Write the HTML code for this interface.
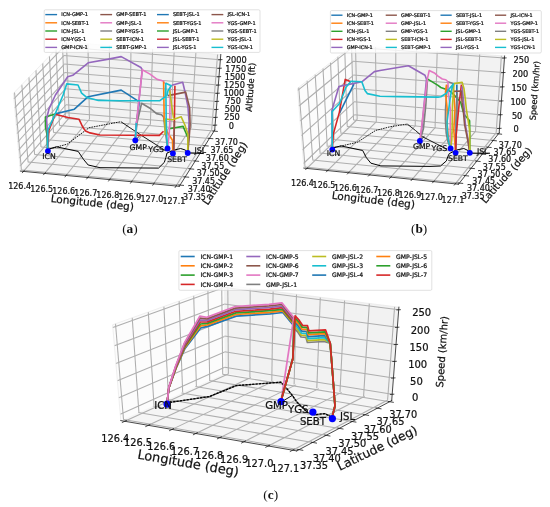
<!DOCTYPE html>
<html><head><meta charset="utf-8"><title>Figure</title>
<style>html,body{margin:0;padding:0;background:#fff}svg{display:block}text{fill:#111}.sans text{stroke:#111;stroke-width:.22px}</style></head>
<body><svg width="550" height="507" viewBox="0 0 550 507" font-family="'DejaVu Sans','Liberation Sans',sans-serif">
<rect width="550" height="507" fill="#fff"/>
<g id="plot-a" class="sans">
<polygon points="20.4,171.1 66.3,117.6 63.3,41.8 13.4,93.4" fill="#fcfcfc"/>
<polygon points="66.3,117.6 214.7,130.1 220.8,54.5 63.3,41.8" fill="#f2f2f2"/>
<polygon points="20.4,171.1 179.3,186.3 214.7,130.1 66.3,117.6" fill="#f5f5f5"/>
<g stroke="#aeaeae" stroke-width="1.05" fill="none">
<path d="M23.5 171.4L69.2 117.8"/>
<path d="M69.2 117.8L66.4 42.1"/>
<path d="M44.7 173.4L89.1 119.5"/>
<path d="M89.5 119.6L87.9 43.8"/>
<path d="M66.1 175.5L109.1 121.2"/>
<path d="M109.8 121.3L109.4 45.5"/>
<path d="M87.7 177.5L129.3 122.9"/>
<path d="M130.1 123L131 47.3"/>
<path d="M109.5 179.6L149.6 124.6"/>
<path d="M150.4 124.7L152.6 49"/>
<path d="M131.5 181.7L170.1 126.3"/>
<path d="M170.8 126.4L174.2 50.7"/>
<path d="M153.7 183.8L190.8 128.1"/>
<path d="M191.2 128.1L195.9 52.5"/>
<path d="M176 186L211.6 129.8"/>
<path d="M211.7 129.8L217.6 54.2"/>
<path d="M21.4 169.9L180.1 185.1"/>
<path d="M21.4 169.9L14.5 92.3"/>
<path d="M28.1 162.1L185.2 176.9"/>
<path d="M28.1 162.2L21.8 84.7"/>
<path d="M34.6 154.5L190.3 168.8"/>
<path d="M34.6 154.5L28.9 77.3"/>
<path d="M41.1 147L195.2 161"/>
<path d="M41 147L35.9 70.1"/>
<path d="M47.3 139.7L200.1 153.3"/>
<path d="M47.3 139.7L42.7 63.1"/>
<path d="M53.5 132.5L204.8 145.7"/>
<path d="M53.5 132.5L49.4 56.1"/>
<path d="M59.5 125.5L209.5 138.4"/>
<path d="M59.5 125.5L56 49.4"/>
<path d="M65.4 118.6L214 131.1"/>
<path d="M65.4 118.6L62.4 42.8"/>
<path d="M20 166.2L66.1 112.7"/>
<path d="M66.1 112.7L215.1 125.2"/>
<path d="M19.2 158.2L65.8 105"/>
<path d="M65.8 104.8L215.7 117.4"/>
<path d="M18.5 150.2L65.5 97.1"/>
<path d="M65.5 96.9L216.4 109.5"/>
<path d="M17.8 142L65.2 89.1"/>
<path d="M65.2 88.8L217 101.4"/>
<path d="M17 133.6L64.8 80.9"/>
<path d="M64.8 80.7L217.7 93.3"/>
<path d="M16.3 125.2L64.5 72.7"/>
<path d="M64.5 72.4L218.3 85.1"/>
<path d="M15.5 116.5L64.2 64.3"/>
<path d="M64.2 64.1L219 76.7"/>
<path d="M14.7 107.8L63.9 55.7"/>
<path d="M63.8 55.6L219.7 68.3"/>
<path d="M13.9 98.8L63.5 47.1"/>
<path d="M63.5 47L220.4 59.7"/>
</g>
<g stroke="#e4e4e4" stroke-width="0.6" fill="none">
<path d="M20.4 171.1L13.4 93.4"/>
<path d="M13.4 93.4L63.3 41.8"/>
<path d="M63.3 41.8L220.8 54.5"/>
</g>
<g stroke="#1c1c1c" stroke-width="0.8" fill="none" stroke-linecap="square">
<path d="M20.4 171.1L179.3 186.3"/>
<path d="M179.3 186.3L214.7 130.1"/>
<path d="M214.7 130.1L220.8 54.5"/>
<path d="M22.4 172.7L24.2 170.5"/>
<path d="M43.6 174.7L45.4 172.6"/>
<path d="M65.1 176.8L66.8 174.6"/>
<path d="M86.7 178.9L88.4 176.7"/>
<path d="M108.6 181L110.2 178.7"/>
<path d="M130.6 183.1L132.1 180.8"/>
<path d="M152.8 185.2L154.3 182.9"/>
<path d="M175.2 187.4L176.6 185.1"/>
<path d="M183.5 185.4L178.8 185"/>
<path d="M188.7 177.2L184 176.8"/>
<path d="M193.7 169.2L189.1 168.7"/>
<path d="M198.6 161.3L194.1 160.9"/>
<path d="M203.4 153.6L198.9 153.2"/>
<path d="M208.2 146L203.7 145.6"/>
<path d="M212.8 138.7L208.3 138.3"/>
<path d="M217.3 131.4L212.9 131"/>
<path d="M213.3 125.3L216.7 125.1"/>
<path d="M213.9 117.5L217.3 117.3"/>
<path d="M214.6 109.6L218 109.4"/>
<path d="M215.2 101.5L218.6 101.3"/>
<path d="M215.9 93.4L219.3 93.2"/>
<path d="M216.5 85.2L219.9 85"/>
<path d="M217.2 76.8L220.6 76.6"/>
<path d="M217.9 68.4L221.3 68.2"/>
<path d="M218.6 59.8L222 59.6"/>
</g>
<g font-size="8">
<text x="19.6" y="189.4" font-size="8" text-anchor="middle" >126.4</text>
<text x="41.7" y="191.5" font-size="8" text-anchor="middle" >126.5</text>
<text x="63.7" y="193.6" font-size="8" text-anchor="middle" >126.6</text>
<text x="85.8" y="195.6" font-size="8" text-anchor="middle" >126.7</text>
<text x="107.8" y="197.7" font-size="8" text-anchor="middle" >126.8</text>
<text x="129.8" y="199.8" font-size="8" text-anchor="middle" >126.9</text>
<text x="151.9" y="201.9" font-size="8" text-anchor="middle" >127.0</text>
<text x="173.9" y="204" font-size="8" text-anchor="middle" >127.1</text>
<text x="194.5" y="199.7" font-size="8" text-anchor="middle" >37.35</text>
<text x="199.1" y="191.9" font-size="8" text-anchor="middle" >37.40</text>
<text x="203.6" y="184.1" font-size="8" text-anchor="middle" >37.45</text>
<text x="208.2" y="176.3" font-size="8" text-anchor="middle" >37.50</text>
<text x="212.8" y="168.5" font-size="8" text-anchor="middle" >37.55</text>
<text x="217.3" y="160.8" font-size="8" text-anchor="middle" >37.60</text>
<text x="221.9" y="153" font-size="8" text-anchor="middle" >37.65</text>
<text x="226.5" y="145.2" font-size="8" text-anchor="middle" >37.70</text>
<text x="231.4" y="128.5" font-size="8.2" text-anchor="middle" >0</text>
<text x="232" y="120.4" font-size="8.2" text-anchor="middle" >250</text>
<text x="232.6" y="112.2" font-size="8.2" text-anchor="middle" >500</text>
<text x="233.2" y="104.1" font-size="8.2" text-anchor="middle" >750</text>
<text x="233.8" y="95.9" font-size="8.2" text-anchor="middle" >1000</text>
<text x="234.5" y="87.8" font-size="8.2" text-anchor="middle" >1250</text>
<text x="235.1" y="79.7" font-size="8.2" text-anchor="middle" >1500</text>
<text x="235.7" y="71.5" font-size="8.2" text-anchor="middle" >1750</text>
<text x="236.3" y="63.4" font-size="8.2" text-anchor="middle" >2000</text>
</g>
<text x="92" y="206.3" font-size="10.5" text-anchor="middle" transform="rotate(5.8 92 206.3)" >Longitude (deg)</text>
<text x="227.7" y="175.3" font-size="10.3" text-anchor="middle" transform="rotate(-56.7 227.7 175.3)" >Latitude (deg)</text>
<text x="253.4" y="87.5" font-size="8.6" text-anchor="middle" transform="rotate(-86 253.4 87.5)" >Altitude (ft)</text>
<polyline points="47.6,149.5 67.3,144.1 89.1,127.7 120.9,121.7" fill="none" stroke="#000" stroke-width="0.9" stroke-linejoin="round" stroke-dasharray="1.6 0.9"/>
<polyline points="120.9,121.7 141.4,135.4 165.9,150.9" fill="none" stroke="#000" stroke-width="0.9" stroke-linejoin="round" />
<polyline points="47.6,149.5 56.4,146.8 78.2,151.4 83.6,159.5 88.2,165 100,167.7 158.5,168.1 164.3,162.4 165.9,157.5 167,153 174.1,150.1 180.6,148.5 185.5,150.1 187.7,153 203.5,153.4" fill="none" stroke="#000" stroke-width="1.0" stroke-linejoin="round" />
<polyline points="135.3,140.3 140.2,135.2" fill="none" stroke="#000" stroke-width="0.8" stroke-linejoin="round" />
<polyline points="55.2,113.9 74.4,109.2 88.2,96.7 121.2,90.1 139.4,101.8 136.5,123 135.3,140" fill="none" stroke="#1f77b4" stroke-width="1.6" stroke-linejoin="round" />
<polyline points="47.6,150 46.9,134 45.5,127 45.4,116.9 55.2,113.9" fill="none" stroke="#2ca02c" stroke-width="1.6" stroke-linejoin="round" />
<polyline points="47.6,150 48.9,130.5 55.2,114.3 67.9,117.5 79.1,119.3 82.7,127 85.6,131.1 90,132.9 100,135 159.4,135.4 163.5,131.3" fill="none" stroke="#d62728" stroke-width="1.6" stroke-linejoin="round" />
<polyline points="135.3,140 136.5,123 142.3,69.7 140.9,67.5 121.2,56.6 108.6,59.1 88.2,62.8 72.8,75.3 67.7,76.7 55.4,95 48.9,109.2 46.6,118.7 47.5,134 47.6,150" fill="none" stroke="#9467bd" stroke-width="1.6" stroke-linejoin="round" />
<polyline points="135.3,140 137,123 141.6,103.3 150,108.2 156.5,113.6 161.5,114.7 163.6,116.9 164.5,125 167.5,148" fill="none" stroke="#7f7f7f" stroke-width="1.6" stroke-linejoin="round" />
<polyline points="135.3,140 136.5,123 142.3,69.7 150,74.1 157.1,79.3 163.1,80.9 164.7,83.6" fill="none" stroke="#e377c2" stroke-width="1.6" stroke-linejoin="round" />
<polyline points="163.6,81.5 164.2,119.8 166.7,131.3 172.5,140.3 172.9,153" fill="none" stroke="#ff7f0e" stroke-width="1.6" stroke-linejoin="round" />
<polyline points="169.2,128.8 183.1,126.4 188,137.8 187.7,153" fill="none" stroke="#2ca02c" stroke-width="1.6" stroke-linejoin="round" />
<polyline points="171.8,85.3 182.7,82.2 185,91.8 188,107.1 189,121.3 188.4,140 187.7,153" fill="none" stroke="#9467bd" stroke-width="1.6" stroke-linejoin="round" />
<polyline points="168,95.6 185.7,92.1 189.6,107.6 190.1,125 189,140 187.7,153" fill="none" stroke="#8c564b" stroke-width="1.6" stroke-linejoin="round" />
<polyline points="174.9,85.8 174.3,128 173.6,153" fill="none" stroke="#d62728" stroke-width="1.6" stroke-linejoin="round" />
<polyline points="174.4,121 173.6,153" fill="none" stroke="#8c564b" stroke-width="1.6" stroke-linejoin="round" />
<polyline points="170.2,86.4 169.8,120 169.2,135 167.5,148" fill="none" stroke="#e377c2" stroke-width="1.6" stroke-linejoin="round" />
<polyline points="169.6,89.6 171.8,106 173.5,118" fill="none" stroke="#bcbd22" stroke-width="1.6" stroke-linejoin="round" />
<polyline points="165.1,135 165.1,119 172.5,119.8 181.1,116.7 184.9,125 188,134.5 187.7,153" fill="none" stroke="#bcbd22" stroke-width="1.6" stroke-linejoin="round" />
<polyline points="47.6,150 47.8,130.5 55.2,113.9 63.1,95 66.7,83.9 78,85 81.6,93.1 86.7,97.4 98.4,100.4 120,100.7 159.9,100.7 165.3,96.7 165.8,83.3 166.2,120 166.7,135 167.5,148" fill="none" stroke="#17becf" stroke-width="1.6" stroke-linejoin="round" />
<polyline points="135.3,140 136.3,123" fill="none" stroke="#17becf" stroke-width="1.6" stroke-linejoin="round" />
<polyline points="165.8,83.3 171.3,85.8 168,90.7 166.9,96.2" fill="none" stroke="#17becf" stroke-width="1.6" stroke-linejoin="round" />
<circle cx="47.9" cy="151.1" r="2.9" fill="#0000ff"/>
<circle cx="135.3" cy="140.3" r="2.9" fill="#0000ff"/>
<circle cx="167.5" cy="148.5" r="2.9" fill="#0000ff"/>
<circle cx="172.9" cy="153.4" r="2.9" fill="#0000ff"/>
<circle cx="187.7" cy="153" r="2.9" fill="#0000ff"/>
<text x="42.3" y="158.7" font-size="7.75" text-anchor="start" >ICN</text>
<text x="129.6" y="150.1" font-size="7.75" text-anchor="start" >GMP</text>
<text x="148.2" y="151.7" font-size="7.75" text-anchor="start" >YGS</text>
<text x="167.2" y="161.5" font-size="7.7" text-anchor="start" >SEBT</text>
<text x="194.5" y="153.4" font-size="7.75" text-anchor="start" >JSL</text>
<rect x="44.2" y="9.8" width="215.8" height="42.6" rx="1.2" fill="#fff" fill-opacity="0.8" stroke="#ccc" stroke-width="0.6"/>
<path d="M45.3 14.6H57.1" stroke="#1f77b4" stroke-width="1.4"/>
<text x="61.2" y="16.4" font-size="5.0" stroke="#111" stroke-width="0.18">ICN-GMP-1</text>
<path d="M45.3 22.8H57.1" stroke="#ff7f0e" stroke-width="1.4"/>
<text x="61.2" y="24.6" font-size="5.0" stroke="#111" stroke-width="0.18">ICN-SEBT-1</text>
<path d="M45.3 31H57.1" stroke="#2ca02c" stroke-width="1.4"/>
<text x="61.2" y="32.8" font-size="5.0" stroke="#111" stroke-width="0.18">ICN-JSL-1</text>
<path d="M45.3 39.2H57.1" stroke="#d62728" stroke-width="1.4"/>
<text x="61.2" y="41" font-size="5.0" stroke="#111" stroke-width="0.18">ICN-YGS-1</text>
<path d="M45.3 47.4H57.1" stroke="#9467bd" stroke-width="1.4"/>
<text x="61.2" y="49.2" font-size="5.0" stroke="#111" stroke-width="0.18">GMP-ICN-1</text>
<path d="M100.3 14.6H112.1" stroke="#8c564b" stroke-width="1.4"/>
<text x="116.2" y="16.4" font-size="5.0" stroke="#111" stroke-width="0.18">GMP-SEBT-1</text>
<path d="M100.3 22.8H112.1" stroke="#e377c2" stroke-width="1.4"/>
<text x="116.2" y="24.6" font-size="5.0" stroke="#111" stroke-width="0.18">GMP-JSL-1</text>
<path d="M100.3 31H112.1" stroke="#7f7f7f" stroke-width="1.4"/>
<text x="116.2" y="32.8" font-size="5.0" stroke="#111" stroke-width="0.18">GMP-YGS-1</text>
<path d="M100.3 39.2H112.1" stroke="#bcbd22" stroke-width="1.4"/>
<text x="116.2" y="41" font-size="5.0" stroke="#111" stroke-width="0.18">SEBT-ICN-1</text>
<path d="M100.3 47.4H112.1" stroke="#17becf" stroke-width="1.4"/>
<text x="116.2" y="49.2" font-size="5.0" stroke="#111" stroke-width="0.18">SEBT-GMP-1</text>
<path d="M157 14.6H168.8" stroke="#1f77b4" stroke-width="1.4"/>
<text x="172.9" y="16.4" font-size="5.0" stroke="#111" stroke-width="0.18">SEBT-JSL-1</text>
<path d="M157 22.8H168.8" stroke="#ff7f0e" stroke-width="1.4"/>
<text x="172.9" y="24.6" font-size="5.0" stroke="#111" stroke-width="0.18">SEBT-YGS-1</text>
<path d="M157 31H168.8" stroke="#2ca02c" stroke-width="1.4"/>
<text x="172.9" y="32.8" font-size="5.0" stroke="#111" stroke-width="0.18">JSL-GMP-1</text>
<path d="M157 39.2H168.8" stroke="#d62728" stroke-width="1.4"/>
<text x="172.9" y="41" font-size="5.0" stroke="#111" stroke-width="0.18">JSL-SEBT-1</text>
<path d="M157 47.4H168.8" stroke="#9467bd" stroke-width="1.4"/>
<text x="172.9" y="49.2" font-size="5.0" stroke="#111" stroke-width="0.18">JSL-YGS-1</text>
<path d="M211.5 14.6H223.3" stroke="#8c564b" stroke-width="1.4"/>
<text x="227.4" y="16.4" font-size="5.0" stroke="#111" stroke-width="0.18">JSL-ICN-1</text>
<path d="M211.5 22.8H223.3" stroke="#e377c2" stroke-width="1.4"/>
<text x="227.4" y="24.6" font-size="5.0" stroke="#111" stroke-width="0.18">YGS-GMP-1</text>
<path d="M211.5 31H223.3" stroke="#7f7f7f" stroke-width="1.4"/>
<text x="227.4" y="32.8" font-size="5.0" stroke="#111" stroke-width="0.18">YGS-SEBT-1</text>
<path d="M211.5 39.2H223.3" stroke="#bcbd22" stroke-width="1.4"/>
<text x="227.4" y="41" font-size="5.0" stroke="#111" stroke-width="0.18">YGS-JSL-1</text>
<path d="M211.5 47.4H223.3" stroke="#17becf" stroke-width="1.4"/>
<text x="227.4" y="49.2" font-size="5.0" stroke="#111" stroke-width="0.18">YGS-ICN-1</text>
<text x="129.9" y="233.2" font-size="13.3" text-anchor="middle" font-family="'Liberation Serif',serif" font-weight="bold" style="stroke:none"><tspan font-weight="normal">(</tspan>a<tspan font-weight="normal">)</tspan></text>
</g>
<g id="plot-b" class="sans">
<polygon points="303.9,168.1 354.4,119.2 352.6,45.3 297.5,88.3" fill="#fcfcfc"/>
<polygon points="354.4,119.2 499.2,132.9 504.6,56 352.6,45.3" fill="#f2f2f2"/>
<polygon points="303.9,168.1 458.5,184.2 499.2,132.9 354.4,119.2" fill="#f5f5f5"/>
<g stroke="#aeaeae" stroke-width="1.05" fill="none">
<path d="M306.9 168.4L357.2 119.5"/>
<path d="M357.2 119.5L355.5 45.5"/>
<path d="M327.6 170.6L376.7 121.3"/>
<path d="M376.3 121.3L375.5 46.9"/>
<path d="M348.5 172.7L396.3 123.2"/>
<path d="M395.6 123.1L395.8 48.3"/>
<path d="M369.6 174.9L416 125"/>
<path d="M415.2 125L416.4 49.8"/>
<path d="M390.8 177.1L435.8 126.9"/>
<path d="M435.1 126.8L437.2 51.3"/>
<path d="M412.1 179.4L455.8 128.8"/>
<path d="M455.2 128.7L458.3 52.7"/>
<path d="M433.6 181.6L476 130.7"/>
<path d="M475.5 130.7L479.7 54.2"/>
<path d="M455.3 183.9L496.2 132.6"/>
<path d="M496.2 132.6L501.4 55.8"/>
<path d="M305 167.1L459.4 183.1"/>
<path d="M305 167L298.7 87.3"/>
<path d="M312.3 159.9L465.3 175.6"/>
<path d="M312.7 159.6L307.1 80.8"/>
<path d="M319.5 153L471.1 168.3"/>
<path d="M320 152.5L315.2 74.5"/>
<path d="M326.6 146.1L476.8 161.1"/>
<path d="M327.2 145.6L323 68.4"/>
<path d="M333.5 139.4L482.4 154.1"/>
<path d="M334.1 138.9L330.5 62.5"/>
<path d="M340.3 132.9L487.8 147.2"/>
<path d="M340.8 132.4L337.8 56.8"/>
<path d="M346.9 126.4L493.2 140.5"/>
<path d="M347.2 126.1L344.8 51.4"/>
<path d="M353.5 120.1L498.4 133.9"/>
<path d="M353.5 120.1L351.6 46.1"/>
<path d="M303.5 163.5L354.3 114.9"/>
<path d="M354.3 114.8L499.5 128.4"/>
<path d="M302.4 149.8L354 102.1"/>
<path d="M354 101.8L500.5 114.8"/>
<path d="M301.3 135.6L353.7 88.9"/>
<path d="M353.7 88.5L501.4 101"/>
<path d="M300.1 121L353.3 75.4"/>
<path d="M353.3 75L502.4 86.9"/>
<path d="M298.9 106L353 61.5"/>
<path d="M353 61.2L503.4 72.6"/>
<path d="M297.7 90.4L352.6 47.3"/>
<path d="M352.6 47.2L504.5 58"/>
</g>
<g stroke="#e4e4e4" stroke-width="0.6" fill="none">
<path d="M303.9 168.1L297.5 88.3"/>
<path d="M297.5 88.3L352.6 45.3"/>
<path d="M352.6 45.3L504.6 56"/>
</g>
<g stroke="#1c1c1c" stroke-width="0.8" fill="none" stroke-linecap="square">
<path d="M303.9 168.1L458.5 184.2"/>
<path d="M458.5 184.2L499.2 132.9"/>
<path d="M499.2 132.9L504.6 56"/>
<path d="M305.7 169.6L307.7 167.6"/>
<path d="M326.5 171.8L328.4 169.8"/>
<path d="M347.4 174L349.3 171.9"/>
<path d="M368.4 176.1L370.3 174.1"/>
<path d="M389.7 178.4L391.5 176.3"/>
<path d="M411.1 180.6L412.8 178.6"/>
<path d="M432.6 182.8L434.3 180.8"/>
<path d="M454.3 185.1L456 183"/>
<path d="M462.7 183.4L458.2 183"/>
<path d="M468.6 176L464.1 175.5"/>
<path d="M474.4 168.6L469.9 168.2"/>
<path d="M480.1 161.5L475.6 161"/>
<path d="M485.6 154.4L481.2 154"/>
<path d="M491.1 147.5L486.7 147.1"/>
<path d="M496.4 140.8L492.1 140.4"/>
<path d="M501.6 134.2L497.3 133.7"/>
<path d="M497.7 128.5L501.1 128.3"/>
<path d="M498.7 114.9L502.1 114.7"/>
<path d="M499.6 101.1L503 100.9"/>
<path d="M500.6 87L504 86.8"/>
<path d="M501.6 72.7L505 72.5"/>
<path d="M502.7 58.1L506.1 57.9"/>
</g>
<g font-size="8">
<text x="302.5" y="185.9" font-size="8" text-anchor="middle" >126.4</text>
<text x="324" y="188.3" font-size="8" text-anchor="middle" >126.5</text>
<text x="345.5" y="190.7" font-size="8" text-anchor="middle" >126.6</text>
<text x="367" y="193.1" font-size="8" text-anchor="middle" >126.7</text>
<text x="388.5" y="195.5" font-size="8" text-anchor="middle" >126.8</text>
<text x="410" y="197.8" font-size="8" text-anchor="middle" >126.9</text>
<text x="431.5" y="200.2" font-size="8" text-anchor="middle" >127.0</text>
<text x="453" y="202.6" font-size="8" text-anchor="middle" >127.1</text>
<text x="473.1" y="198.7" font-size="8" text-anchor="middle" >37.35</text>
<text x="478.4" y="191.4" font-size="8" text-anchor="middle" >37.40</text>
<text x="483.7" y="184.1" font-size="8" text-anchor="middle" >37.45</text>
<text x="489" y="176.8" font-size="8" text-anchor="middle" >37.50</text>
<text x="494.3" y="169.5" font-size="8" text-anchor="middle" >37.55</text>
<text x="499.7" y="162.2" font-size="8" text-anchor="middle" >37.60</text>
<text x="505" y="154.9" font-size="8" text-anchor="middle" >37.65</text>
<text x="510.3" y="147.6" font-size="8" text-anchor="middle" >37.70</text>
<text x="516.1" y="132.3" font-size="8.2" text-anchor="middle" >0</text>
<text x="517.1" y="118.5" font-size="8.2" text-anchor="middle" >50</text>
<text x="518.2" y="104.7" font-size="8.2" text-anchor="middle" >100</text>
<text x="519.2" y="90.8" font-size="8.2" text-anchor="middle" >150</text>
<text x="520.3" y="77" font-size="8.2" text-anchor="middle" >200</text>
<text x="521.3" y="63.2" font-size="8.2" text-anchor="middle" >250</text>
</g>
<text x="373" y="203.5" font-size="10.5" text-anchor="middle" transform="rotate(6.5 373 203.5)" >Longitude (deg)</text>
<text x="509" y="177.5" font-size="10.0" text-anchor="middle" transform="rotate(-48.3 509 177.5)" >Latitude (deg)</text>
<text x="537.7" y="90.8" font-size="8.3" text-anchor="middle" transform="rotate(-86 537.7 90.8)" >Speed (km/hr)</text>
<polyline points="332.5,148 357.3,142.3 375.5,130.5 390,126.8 407.3,124.1" fill="none" stroke="#000" stroke-width="0.9" stroke-linejoin="round" stroke-dasharray="1.6 0.9"/>
<polyline points="407.3,124.1 415.5,130.5 422.7,136.8 447.1,149.3" fill="none" stroke="#000" stroke-width="0.9" stroke-linejoin="round" />
<polyline points="419.9,141 424.5,135.8" fill="none" stroke="#000" stroke-width="0.8" stroke-linejoin="round" />
<polyline points="332.5,148 340.9,145.9 362.7,150.5 366.4,157.7 370.9,163.2 380.9,165.9 430,166.4 440.5,166 446.4,160.9 447.8,156.5 449.3,153.6 456.5,150 463.8,148.5 468,150.5 469.6,153.2 490,153.2" fill="none" stroke="#000" stroke-width="1.0" stroke-linejoin="round" />
<polyline points="339.7,112.6 353.9,84.2" fill="none" stroke="#1f77b4" stroke-width="1.6" stroke-linejoin="round" />
<polyline points="332.3,149 333.3,134.1 339.4,112.1 345.2,79.4 350.8,81.8" fill="none" stroke="#d62728" stroke-width="1.6" stroke-linejoin="round" />
<polyline points="419.9,141 421.8,128.9 426.5,79.2 425,75.2 408.4,65.8 380,70.5 374.4,71.6 361.8,81.8 353.9,83.4 338.9,86.5 331.9,110.4 332.3,149" fill="none" stroke="#9467bd" stroke-width="1.6" stroke-linejoin="round" />
<polyline points="427.3,78.9 438,85.4 440.8,87.5 445.8,89.3 450.8,91.8 457.9,98.9 460.7,102.4 462.7,109.9 464.6,114.9 469.6,120.8 469.8,134.6 469.8,152.6" fill="none" stroke="#2ca02c" stroke-width="1.6" stroke-linejoin="round" />
<polyline points="419.9,141 423.4,128.9 425.8,105.2 427.3,81.6" fill="none" stroke="#7f7f7f" stroke-width="1.6" stroke-linejoin="round" />
<polyline points="447.9,81.8 451.5,82.9 453.3,83.9" fill="none" stroke="#7f7f7f" stroke-width="1.6" stroke-linejoin="round" />
<polyline points="447.2,84.7 445.5,109.5 445.4,120 446.2,133 448,142 450.6,148.2" fill="none" stroke="#7f7f7f" stroke-width="1.6" stroke-linejoin="round" />
<polyline points="446.5,84.7 445.5,91.8 447.2,109.5 447.2,125 448.5,139 450.6,148.2" fill="none" stroke="#ff7f0e" stroke-width="1.6" stroke-linejoin="round" />
<polyline points="453.3,88.2 455,109.5 453.8,129.7 455.6,152.6" fill="none" stroke="#ff7f0e" stroke-width="1.6" stroke-linejoin="round" />
<polyline points="456.8,84.7 456.8,109.5 456,135 455.6,152.6" fill="none" stroke="#1f77b4" stroke-width="1.6" stroke-linejoin="round" />
<polyline points="457.2,92.5 456.8,109.5 456.2,135 455.6,152.6" fill="none" stroke="#7f7f7f" stroke-width="1.6" stroke-linejoin="round" />
<polyline points="461.4,84.7 459.3,102.4 458.6,109.5 456.2,134.6 455.6,152.6" fill="none" stroke="#d62728" stroke-width="1.6" stroke-linejoin="round" />
<polyline points="462.1,86.1 463.6,102.4 464.3,109.5 465.4,124.7 468,139.5 469.8,152.6" fill="none" stroke="#9467bd" stroke-width="1.6" stroke-linejoin="round" />
<polyline points="453.3,91.4 461.4,91 462.1,102.4 463.2,109.5 464.6,124.7 467.6,139.5 469.8,152.6" fill="none" stroke="#8c564b" stroke-width="1.6" stroke-linejoin="round" />
<polyline points="419.9,141 421.3,128.9 427.3,79.2 429.2,70.5 434.4,72.9 438,76.1 442.3,79 445.8,79.7 447.9,81.8 448.7,95 450.4,109.5 450.2,130 450.6,148.2" fill="none" stroke="#e377c2" stroke-width="1.6" stroke-linejoin="round" />
<polyline points="450.6,148.2 451.8,140 452.2,125 452.5,105 454,83.6 462.1,82.2 463.9,88.2 465.3,98.9 466.4,109.5 469.6,129.7 469.8,152.6" fill="none" stroke="#bcbd22" stroke-width="1.6" stroke-linejoin="round" />
<polyline points="332.3,149 332,111.8 339.7,103.3 346,87.3 351,81.3 361.8,81.8 365,90.5 367.3,93.6 380,96.3 400,96.6 438,97.1 440.8,96.7 446.5,93.2 448.7,89.6 453.3,83.9 451.5,90.3 450.1,98.9 448.7,109.5 447,122 447.6,135 449,143 450.6,148.2" fill="none" stroke="#17becf" stroke-width="1.6" stroke-linejoin="round" />
<circle cx="332.3" cy="149.6" r="2.9" fill="#0000ff"/>
<circle cx="419.9" cy="141" r="2.9" fill="#0000ff"/>
<circle cx="450.6" cy="148.4" r="2.9" fill="#0000ff"/>
<circle cx="455.6" cy="152.8" r="2.9" fill="#0000ff"/>
<circle cx="469.8" cy="152.8" r="2.9" fill="#0000ff"/>
<text x="326.8" y="156.2" font-size="7.75" text-anchor="start" >ICN</text>
<text x="412.9" y="149.3" font-size="7.75" text-anchor="start" >GMP</text>
<text x="431.5" y="150.7" font-size="7.75" text-anchor="start" >YGS</text>
<text x="448.1" y="160.9" font-size="7.7" text-anchor="start" >SEBT</text>
<text x="476.9" y="153.6" font-size="7.75" text-anchor="start" >JSL</text>
<rect x="330.4" y="10.6" width="210.9" height="42.4" rx="1.2" fill="#fff" fill-opacity="0.8" stroke="#ccc" stroke-width="0.6"/>
<path d="M331.3 15.2H342.5" stroke="#1f77b4" stroke-width="1.4"/>
<text x="346.7" y="17" font-size="4.9" stroke="#111" stroke-width="0.18">ICN-GMP-1</text>
<path d="M331.3 23.2H342.5" stroke="#ff7f0e" stroke-width="1.4"/>
<text x="346.7" y="25" font-size="4.9" stroke="#111" stroke-width="0.18">ICN-SEBT-1</text>
<path d="M331.3 31.3H342.5" stroke="#2ca02c" stroke-width="1.4"/>
<text x="346.7" y="33.1" font-size="4.9" stroke="#111" stroke-width="0.18">ICN-JSL-1</text>
<path d="M331.3 39.4H342.5" stroke="#d62728" stroke-width="1.4"/>
<text x="346.7" y="41.1" font-size="4.9" stroke="#111" stroke-width="0.18">ICN-YGS-1</text>
<path d="M331.3 47.4H342.5" stroke="#9467bd" stroke-width="1.4"/>
<text x="346.7" y="49.2" font-size="4.9" stroke="#111" stroke-width="0.18">GMP-ICN-1</text>
<path d="M385.7 15.2H396.9" stroke="#8c564b" stroke-width="1.4"/>
<text x="401.1" y="17" font-size="4.9" stroke="#111" stroke-width="0.18">GMP-SEBT-1</text>
<path d="M385.7 23.2H396.9" stroke="#e377c2" stroke-width="1.4"/>
<text x="401.1" y="25" font-size="4.9" stroke="#111" stroke-width="0.18">GMP-JSL-1</text>
<path d="M385.7 31.3H396.9" stroke="#7f7f7f" stroke-width="1.4"/>
<text x="401.1" y="33.1" font-size="4.9" stroke="#111" stroke-width="0.18">GMP-YGS-1</text>
<path d="M385.7 39.4H396.9" stroke="#bcbd22" stroke-width="1.4"/>
<text x="401.1" y="41.1" font-size="4.9" stroke="#111" stroke-width="0.18">SEBT-ICN-1</text>
<path d="M385.7 47.4H396.9" stroke="#17becf" stroke-width="1.4"/>
<text x="401.1" y="49.2" font-size="4.9" stroke="#111" stroke-width="0.18">SEBT-GMP-1</text>
<path d="M440.5 15.2H451.7" stroke="#1f77b4" stroke-width="1.4"/>
<text x="455.9" y="17" font-size="4.9" stroke="#111" stroke-width="0.18">SEBT-JSL-1</text>
<path d="M440.5 23.2H451.7" stroke="#ff7f0e" stroke-width="1.4"/>
<text x="455.9" y="25" font-size="4.9" stroke="#111" stroke-width="0.18">SEBT-YGS-1</text>
<path d="M440.5 31.3H451.7" stroke="#2ca02c" stroke-width="1.4"/>
<text x="455.9" y="33.1" font-size="4.9" stroke="#111" stroke-width="0.18">JSL-GMP-1</text>
<path d="M440.5 39.4H451.7" stroke="#d62728" stroke-width="1.4"/>
<text x="455.9" y="41.1" font-size="4.9" stroke="#111" stroke-width="0.18">JSL-SEBT-1</text>
<path d="M440.5 47.4H451.7" stroke="#9467bd" stroke-width="1.4"/>
<text x="455.9" y="49.2" font-size="4.9" stroke="#111" stroke-width="0.18">JSL-YGS-1</text>
<path d="M495 15.2H506.2" stroke="#8c564b" stroke-width="1.4"/>
<text x="510.4" y="17" font-size="4.9" stroke="#111" stroke-width="0.18">JSL-ICN-1</text>
<path d="M495 23.2H506.2" stroke="#e377c2" stroke-width="1.4"/>
<text x="510.4" y="25" font-size="4.9" stroke="#111" stroke-width="0.18">YGS-GMP-1</text>
<path d="M495 31.3H506.2" stroke="#7f7f7f" stroke-width="1.4"/>
<text x="510.4" y="33.1" font-size="4.9" stroke="#111" stroke-width="0.18">YGS-SEBT-1</text>
<path d="M495 39.4H506.2" stroke="#bcbd22" stroke-width="1.4"/>
<text x="510.4" y="41.1" font-size="4.9" stroke="#111" stroke-width="0.18">YGS-JSL-1</text>
<path d="M495 47.4H506.2" stroke="#17becf" stroke-width="1.4"/>
<text x="510.4" y="49.2" font-size="4.9" stroke="#111" stroke-width="0.18">YGS-ICN-1</text>
<text x="419.1" y="233" font-size="13.3" text-anchor="middle" font-family="'Liberation Serif',serif" font-weight="bold" style="stroke:none"><tspan font-weight="normal">(</tspan>b<tspan font-weight="normal">)</tspan></text>
</g>
<g id="plot-c" class="sans">
<polygon points="120.8,420.6 224.8,373.2 224,285 112.6,324.8" fill="#fcfcfc"/>
<polygon points="224.8,373.2 391.7,400.6 398.9,307.2 224,285" fill="#f2f2f2"/>
<polygon points="120.8,420.6 296.7,450.9 391.7,400.6 224.8,373.2" fill="#f5f5f5"/>
<g stroke="#aeaeae" stroke-width="1.05" fill="none">
<path d="M124.8 421.3L228.6 373.8"/>
<path d="M228.4 373.8L227.8 285.5"/>
<path d="M148.3 425.3L250.9 377.5"/>
<path d="M249.9 377.3L250.2 288.3"/>
<path d="M172 429.4L273.4 381.2"/>
<path d="M271.8 380.9L273.1 291.2"/>
<path d="M195.8 433.5L296 384.9"/>
<path d="M294.1 384.6L296.5 294.2"/>
<path d="M219.8 437.7L318.8 388.6"/>
<path d="M316.8 388.3L320.3 297.2"/>
<path d="M243.9 441.8L341.7 392.4"/>
<path d="M340 392.1L344.6 300.3"/>
<path d="M268.2 446L364.7 396.2"/>
<path d="M363.6 396L369.3 303.4"/>
<path d="M292.6 450.2L387.8 400"/>
<path d="M387.6 399.9L394.6 306.7"/>
<path d="M123.3 419.4L299 449.7"/>
<path d="M123.5 419.4L115.5 323.8"/>
<path d="M138.3 412.6L312.7 442.4"/>
<path d="M138.9 412.3L132.2 317.8"/>
<path d="M152.9 405.9L326.1 435.3"/>
<path d="M154 405.5L148.3 312"/>
<path d="M167.4 399.4L339.3 428.4"/>
<path d="M168.5 398.8L163.9 306.5"/>
<path d="M181.5 392.9L352.2 421.5"/>
<path d="M182.7 392.4L179.1 301.1"/>
<path d="M195.4 386.6L364.9 414.8"/>
<path d="M196.4 386.2L193.7 295.8"/>
<path d="M209.1 380.4L377.4 408.2"/>
<path d="M209.7 380.1L207.9 290.7"/>
<path d="M222.6 374.2L389.7 401.7"/>
<path d="M222.7 374.2L221.7 285.8"/>
<path d="M120.3 414.2L224.7 367.3"/>
<path d="M224.7 367.2L392.2 394.3"/>
<path d="M118.8 397.7L224.6 352"/>
<path d="M224.6 351.8L393.4 378"/>
<path d="M117.4 380.8L224.5 336.4"/>
<path d="M224.5 336.1L394.7 361.4"/>
<path d="M115.9 363.5L224.3 320.5"/>
<path d="M224.3 320.1L396 344.5"/>
<path d="M114.4 345.8L224.2 304.2"/>
<path d="M224.2 303.9L397.3 327.3"/>
<path d="M112.8 327.6L224 287.5"/>
<path d="M224 287.5L398.7 309.8"/>
</g>
<g stroke="#e4e4e4" stroke-width="0.6" fill="none">
<path d="M120.8 420.6L112.6 324.8"/>
<path d="M112.6 324.8L224 285"/>
<path d="M224 285L398.9 307.2"/>
</g>
<g stroke="#1c1c1c" stroke-width="0.8" fill="none" stroke-linecap="square">
<path d="M120.8 420.6L296.7 450.9"/>
<path d="M296.7 450.9L391.7 400.6"/>
<path d="M391.7 400.6L398.9 307.2"/>
<path d="M122.3 422.4L126.4 420.5"/>
<path d="M145.8 426.5L149.9 424.6"/>
<path d="M169.6 430.6L173.6 428.6"/>
<path d="M193.4 434.7L197.4 432.7"/>
<path d="M217.4 438.8L221.4 436.9"/>
<path d="M241.6 443L245.5 441"/>
<path d="M265.8 447.2L269.7 445.2"/>
<path d="M290.3 451.4L294.1 449.4"/>
<path d="M302.8 450.3L297.7 449.4"/>
<path d="M316.5 443.1L311.3 442.2"/>
<path d="M329.9 436L324.8 435.1"/>
<path d="M343 429L337.9 428.1"/>
<path d="M355.9 422.1L350.9 421.3"/>
<path d="M368.6 415.4L363.6 414.6"/>
<path d="M381 408.8L376.1 408"/>
<path d="M393.3 402.3L388.4 401.5"/>
<path d="M390.4 394.4L393.8 394.2"/>
<path d="M391.6 378.1L395 377.9"/>
<path d="M392.9 361.5L396.3 361.3"/>
<path d="M394.2 344.6L397.6 344.4"/>
<path d="M395.5 327.4L398.9 327.2"/>
<path d="M396.9 309.9L400.3 309.7"/>
</g>
<g>
<text x="115.3" y="441.8" font-size="9.8" text-anchor="middle" >126.4</text>
<text x="138" y="446" font-size="9.8" text-anchor="middle" >126.5</text>
<text x="161.3" y="450.3" font-size="9.8" text-anchor="middle" >126.6</text>
<text x="185" y="454.5" font-size="9.8" text-anchor="middle" >126.7</text>
<text x="209.3" y="458.8" font-size="9.8" text-anchor="middle" >126.8</text>
<text x="234.1" y="463" font-size="9.8" text-anchor="middle" >126.9</text>
<text x="259.4" y="467.2" font-size="9.8" text-anchor="middle" >127.0</text>
<text x="285.2" y="471.5" font-size="9.8" text-anchor="middle" >127.1</text>
<text x="314" y="469.3" font-size="9.8" text-anchor="middle" >37.35</text>
<text x="326.7" y="462" font-size="9.8" text-anchor="middle" >37.40</text>
<text x="339.5" y="454.7" font-size="9.8" text-anchor="middle" >37.45</text>
<text x="352.2" y="447.4" font-size="9.8" text-anchor="middle" >37.50</text>
<text x="365" y="440.1" font-size="9.8" text-anchor="middle" >37.55</text>
<text x="377.7" y="432.8" font-size="9.8" text-anchor="middle" >37.60</text>
<text x="390.4" y="425.4" font-size="9.8" text-anchor="middle" >37.65</text>
<text x="403.2" y="418.1" font-size="9.8" text-anchor="middle" >37.70</text>
<text x="415.2" y="400.8" font-size="10" text-anchor="middle" >0</text>
<text x="416.4" y="384.5" font-size="10" text-anchor="middle" >50</text>
<text x="417.7" y="367.9" font-size="10" text-anchor="middle" >100</text>
<text x="419" y="351" font-size="10" text-anchor="middle" >150</text>
<text x="420.3" y="333.8" font-size="10" text-anchor="middle" >200</text>
<text x="421.7" y="316.3" font-size="10" text-anchor="middle" >250</text>
</g>
<text x="187.5" y="467.4" font-size="12.9" text-anchor="middle" transform="rotate(10 187.5 467.4)" >Longitude (deg)</text>
<text x="379" y="452" font-size="12.3" text-anchor="middle" transform="rotate(-25.9 379 452)" >Latitude (deg)</text>
<text x="445.5" y="352" font-size="10" text-anchor="middle" transform="rotate(-86 445.5 352)" >Speed (km/hr)</text>
<polyline points="166.4,402.8 209.3,396.6 236.3,385.6 280.9,382.2 287.2,389.1 292.3,395.4 296.6,401.7 307.5,412.5 315.1,414.7 324.9,413.6 331.4,416.9" fill="none" stroke="#000" stroke-width="1.2" stroke-linejoin="round" stroke-opacity="0.6"/>
<polyline points="166.4,402.8 209.3,396.6 236.3,385.6 280.9,382.2 287.2,389.1 292.3,395.4 296.6,401.7 307.5,412.5 315.1,414.7 324.9,413.6 331.4,416.9" fill="none" stroke="#000" stroke-width="1.3" stroke-linejoin="round" stroke-dasharray="2.2 1.2"/>
<polyline points="281.6,401.8 292.3,395.4" fill="none" stroke="#000" stroke-width="0.9" stroke-linejoin="round" />
<polyline points="167.1,403 168.9,388 176,368.5 185,348.5 200.7,327.9 207.6,326.4 236.2,316.1 270,313.9 282.8,312.5 292.7,324.4" fill="none" stroke="#1f77b4" stroke-width="1.7" stroke-linejoin="round" />
<polyline points="167.1,403 168.9,387.9 176,368.1 184.9,347.5 200.5,325.9 207.4,324.9 236,314.5 269.9,312.3 282.7,310.9 292.9,323.2" fill="none" stroke="#ff7f0e" stroke-width="1.7" stroke-linejoin="round" />
<polyline points="167.1,403 168.9,387.8 175.9,367.6 184.8,346.6 200.4,324 207.3,323.4 235.9,312.9 269.7,310.7 282.5,309.3 293.1,322.1" fill="none" stroke="#2ca02c" stroke-width="1.7" stroke-linejoin="round" />
<polyline points="167.1,403 168.9,387.7 175.9,367.2 184.7,345.6 200.2,322 207.2,321.9 235.8,311.3 269.6,309.1 282.4,307.7 293.2,320.9" fill="none" stroke="#d62728" stroke-width="1.7" stroke-linejoin="round" />
<polyline points="167.1,403 168.9,387.6 175.8,366.7 184.6,344.6 200.1,320.1 207,320.4 235.6,309.7 269.4,307.5 282.2,306.1 293.4,319.8" fill="none" stroke="#9467bd" stroke-width="1.7" stroke-linejoin="round" />
<polyline points="167.1,403 168.8,387.5 175.8,366.3 184.5,343.6 199.9,318.1 206.8,318.9 235.4,308.1 269.2,305.9 282.1,304.5 293.6,318.6" fill="none" stroke="#8c564b" stroke-width="1.7" stroke-linejoin="round" />
<polyline points="167.1,403 168.8,387.3 175.7,365.8 184.5,342.7 199.8,316.2 206.7,317.4 235.3,306.5 269.1,304.3 281.9,302.9 293.8,317.5 284.3,380 281,401" fill="none" stroke="#e377c2" stroke-width="1.7" stroke-linejoin="round" />
<polyline points="281,401 284.6,388 292.8,358.7 293.6,327.6 297.6,331.9 301,337 306,337.4 307.4,342.5 324,341.5 330.2,343.1 333.1,380 335,406 332.4,416" fill="none" stroke="#7f7f7f" stroke-width="1.7" stroke-linejoin="round" />
<polyline points="281,401 284.6,388 292.8,358.7 293.9,325.7 297.9,329.9 301.2,335.1 306.2,335.4 307.6,340.6 324.2,339.6 330.2,343.1 333.1,380 335,406 332.4,416" fill="none" stroke="#bcbd22" stroke-width="1.7" stroke-linejoin="round" />
<polyline points="281,401 284.6,388 292.8,358.7 294.1,323.7 298.1,328 301.5,333.1 306.5,333.5 307.9,338.6 324.5,337.6 330.2,343.1 333.1,380 335,406 332.4,416" fill="none" stroke="#17becf" stroke-width="1.7" stroke-linejoin="round" />
<polyline points="281,401 284.6,388 292.8,358.7 294.4,321.8 298.4,326 301.8,331.1 306.8,331.5 308.1,336.6 324.8,335.6 330.2,343.1 333.1,380 335,406 332.4,416" fill="none" stroke="#1f77b4" stroke-width="1.7" stroke-linejoin="round" />
<polyline points="281,401 284.6,388 292.8,358.7 294.6,319.8 298.6,324.1 302,329.2 307,329.6 308.4,334.7 325,333.7 330.2,343.1 333.1,380 335,406 332.4,416" fill="none" stroke="#ff7f0e" stroke-width="1.7" stroke-linejoin="round" />
<polyline points="281,401 284.6,388 292.8,358.7 294.9,317.9 298.9,322.1 302.2,327.2 307.2,327.6 308.6,332.8 325.2,331.8 330.2,343.1 333.1,380 335,406 332.4,416" fill="none" stroke="#2ca02c" stroke-width="1.7" stroke-linejoin="round" />
<polyline points="281,401 284.6,388 292.8,358.7 295.1,315.9 299.1,320.2 302.5,325.3 307.5,325.7 308.9,330.8 325.5,329.8 330.2,343.1 333.1,380 335,406 332.4,416" fill="none" stroke="#d62728" stroke-width="1.7" stroke-linejoin="round" />
<circle cx="167.1" cy="404.2" r="3.6" fill="#0000ff"/>
<circle cx="281" cy="401.7" r="3.6" fill="#0000ff"/>
<circle cx="312.9" cy="412.1" r="3.6" fill="#0000ff"/>
<circle cx="332.4" cy="418.6" r="3.6" fill="#0000ff"/>
<text x="154.2" y="409.2" font-size="10.2" text-anchor="start" >ICN</text>
<text x="265.2" y="409.3" font-size="10.2" text-anchor="start" >GMP</text>
<text x="288" y="412.5" font-size="10.2" text-anchor="start" >YGS</text>
<text x="299.9" y="424.5" font-size="10.2" text-anchor="start" >SEBT</text>
<text x="340" y="420.1" font-size="10.2" text-anchor="start" >JSL</text>
<rect x="178.9" y="250.6" width="252.9" height="39.7" rx="1.2" fill="#fff" fill-opacity="0.8" stroke="#ccc" stroke-width="0.6"/>
<path d="M180.7 256.5H194.7" stroke="#1f77b4" stroke-width="1.6"/>
<text x="200.5" y="258.7" font-size="6.1" stroke="#111" stroke-width="0.18">ICN-GMP-1</text>
<path d="M180.7 265.8H194.7" stroke="#ff7f0e" stroke-width="1.6"/>
<text x="200.5" y="268" font-size="6.1" stroke="#111" stroke-width="0.18">ICN-GMP-2</text>
<path d="M180.7 275.1H194.7" stroke="#2ca02c" stroke-width="1.6"/>
<text x="200.5" y="277.3" font-size="6.1" stroke="#111" stroke-width="0.18">ICN-GMP-3</text>
<path d="M180.7 284.4H194.7" stroke="#d62728" stroke-width="1.6"/>
<text x="200.5" y="286.6" font-size="6.1" stroke="#111" stroke-width="0.18">ICN-GMP-4</text>
<path d="M246.3 256.5H260.3" stroke="#9467bd" stroke-width="1.6"/>
<text x="266.1" y="258.7" font-size="6.1" stroke="#111" stroke-width="0.18">ICN-GMP-5</text>
<path d="M246.3 265.8H260.3" stroke="#8c564b" stroke-width="1.6"/>
<text x="266.1" y="268" font-size="6.1" stroke="#111" stroke-width="0.18">ICN-GMP-6</text>
<path d="M246.3 275.1H260.3" stroke="#e377c2" stroke-width="1.6"/>
<text x="266.1" y="277.3" font-size="6.1" stroke="#111" stroke-width="0.18">ICN-GMP-7</text>
<path d="M246.3 284.4H260.3" stroke="#7f7f7f" stroke-width="1.6"/>
<text x="266.1" y="286.6" font-size="6.1" stroke="#111" stroke-width="0.18">GMP-JSL-1</text>
<path d="M312.2 256.5H326.2" stroke="#bcbd22" stroke-width="1.6"/>
<text x="332" y="258.7" font-size="6.1" stroke="#111" stroke-width="0.18">GMP-JSL-2</text>
<path d="M312.2 265.8H326.2" stroke="#17becf" stroke-width="1.6"/>
<text x="332" y="268" font-size="6.1" stroke="#111" stroke-width="0.18">GMP-JSL-3</text>
<path d="M312.2 275.1H326.2" stroke="#1f77b4" stroke-width="1.6"/>
<text x="332" y="277.3" font-size="6.1" stroke="#111" stroke-width="0.18">GMP-JSL-4</text>
<path d="M376.3 256.5H390.3" stroke="#ff7f0e" stroke-width="1.6"/>
<text x="396.1" y="258.7" font-size="6.1" stroke="#111" stroke-width="0.18">GMP-JSL-5</text>
<path d="M376.3 265.8H390.3" stroke="#2ca02c" stroke-width="1.6"/>
<text x="396.1" y="268" font-size="6.1" stroke="#111" stroke-width="0.18">GMP-JSL-6</text>
<path d="M376.3 275.1H390.3" stroke="#d62728" stroke-width="1.6"/>
<text x="396.1" y="277.3" font-size="6.1" stroke="#111" stroke-width="0.18">GMP-JSL-7</text>
<text x="270.7" y="499.2" font-size="13.3" text-anchor="middle" font-family="'Liberation Serif',serif" font-weight="bold" style="stroke:none"><tspan font-weight="normal">(</tspan>c<tspan font-weight="normal">)</tspan></text>
</g>
</svg></body></html>
